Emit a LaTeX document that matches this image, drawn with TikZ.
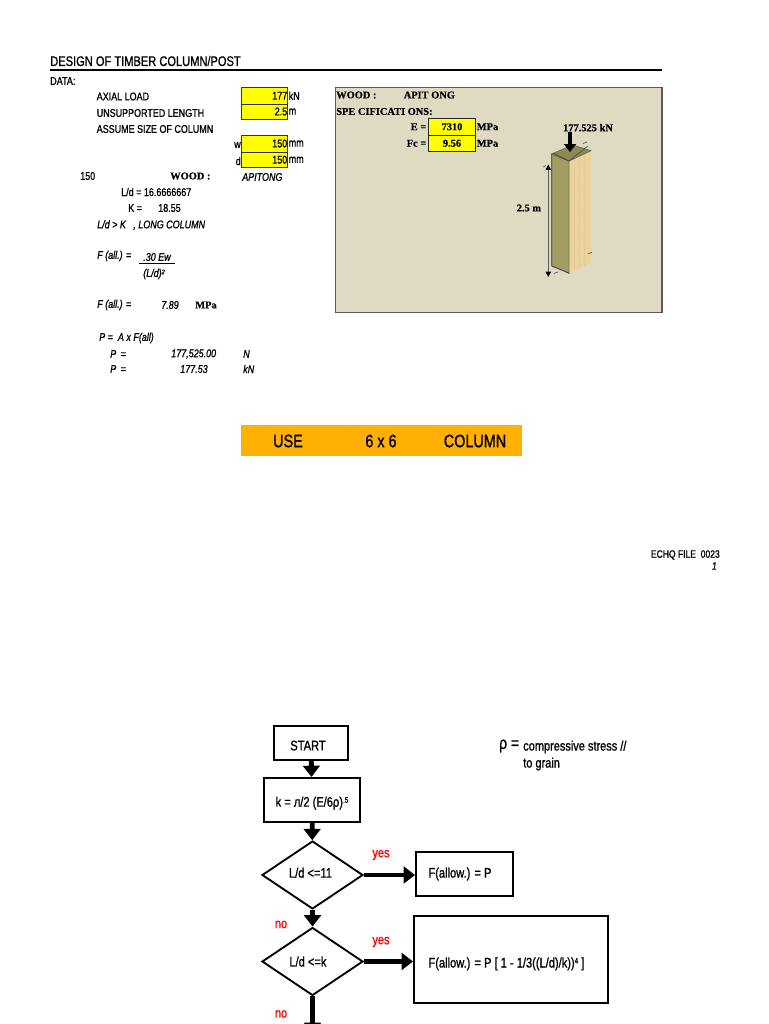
\documentclass[tikz,border=0pt]{standalone}
\usepackage{fontspec}
\usepackage{xcolor}
\usetikzlibrary{shapes.geometric,arrows.meta}
\setmainfont[FakeStretch=0.8,FakeBold=1]{Liberation Sans}
\newfontfamily\serifbold[FakeBold=0.6]{Liberation Serif}
\definecolor{panelback}{HTML}{DFDBC3}
\definecolor{cellyellow}{HTML}{FFFF00}
\definecolor{bannerorange}{HTML}{FFB000}
\definecolor{woodlight}{HTML}{EBD3A0}
\definecolor{woodside}{HTML}{A39C63}
\definecolor{woodtop}{HTML}{8E8953}
\tikzset{
  txt/.style={anchor=west,inner sep=0pt,font=\fontsize{8.4}{9}\selectfont},
  ittxt/.style={txt,font=\fontsize{8.4}{9}\selectfont\itshape},
  numright/.style={txt,anchor=east},
  serif/.style={anchor=west,inner sep=0pt,font=\fontsize{7.8}{8}\serifbold\bfseries},
  cell/.style={draw=black!80,fill=cellyellow,line width=0.7pt,inner sep=0pt},
  stepbox/.style={draw,line width=1.5pt,inner sep=0pt,font=\fontsize{10.4}{12}\selectfont},
  choice/.style={diamond,draw,line width=1.4pt,inner sep=0pt,minimum width=75.75pt,minimum height=51pt,font=\fontsize{10.4}{12}\selectfont},
  flow/.style={line width=3.6pt,-{Triangle[length=8.5pt,width=12.5pt]}},
  redtxt/.style={red,inner sep=0pt,font=\fontsize{10.3}{12}\selectfont},
  bantxt/.style={inner sep=0pt,font=\fontsize{13.5}{15}\selectfont}
}
\begin{document}
\begin{tikzpicture}[x=0.75pt,y=-0.75pt]
\clip (0,0) rectangle (768,1024);
\fill[white] (0,0) rectangle (768,1024);
% heading
\node[txt,font=\fontsize{10.4}{12}\selectfont] (title) at (50,61) {DESIGN OF TIMBER COLUMN/POST};
\draw[line width=1.5pt] (50,70.5) -- (662,70.5);
\node[txt] (data) at (50,81) {DATA:};
% input cells
\foreach \nm/\yt/\yb/\s/\u in {load/87.5/104/177/kN, len/104/119/2.5/m, wid/135/152/150/mm, dep/152/167.5/150/mm} {
  \draw[cell] (241.5,\yt) rectangle (287.5,\yb);
  \node[numright] (\nm v) at (287.5,{(\yt+\yb)/2}) {\s};
  \node[txt] (\nm u) at (288.5,{(\yt+\yb)/2}) {\u};
}
\node[numright] (wlab) at (241,145) {w};
\node[numright] (dlab) at (241,161) {d};
% left column of text
\foreach \nm/\x/\y/\s in {axial/96.5/96.5/AXIAL LOAD, unsup/96.5/113/UNSUPPORTED LENGTH, assume/96.5/129/ASSUME SIZE OF COLUMN,
    side/80/176/150, ld/121/192/{L/d = 16.6666667}, klab/128/208/K =, kval/158/208/18.55}
  \node[txt] (\nm) at (\x,\y) {\s};
\foreach \nm/\x/\y/\s in {apit/242/177/APITONG, cmp/97/225/{L/d > K \ \ , LONG COLUMN}, fa/97/256/F (all.) =, num/143/257/.30 Ew,
    den/143/274/{(L/d)\raisebox{2pt}{\fontsize{5}{5}\selectfont 2}}, fb/97/305/F (all.) =, fval/161/305/7.89, pf/99/338/P = \ A x F(all),
    pa/110/354/P \,=, pav/171/354/{177,525.00}, pau/243/354/N, pb/110/369/P \,=, pbv/180/369/177.53, pbu/243/369/kN}
  \node[ittxt] (\nm) at (\x,\y) {\s};
\draw[line width=0.5pt] (139,263) -- (175,263);
\node[serif] (woodl) at (170,176) {WOOD :};
\node[serif] (mpal) at (195,305) {MPa};
% panel
\draw[draw=black!65,fill=panelback,line width=0.9pt] (335.7,87.3) rectangle (662,312.7);
\node[serif] (woodp) at (336,95) {WOOD :};
\node[serif] (apitp) at (403.5,95) {APIT ONG};
\node[serif] (spec) at (336,111.5) {SPE CIFICATI ONS:};
\foreach \nm/\yt/\yb/\l/\s in {emod/118.5/135/E =/7310, fcom/135/151.5/Fc =/9.56} {
  \draw[cell,draw=black!85] (428.7,\yt) rectangle (475.3,\yb);
  \node[serif,anchor=east] (\nm l) at (426.5,{(\yt+\yb)/2}) {\l};
  \node[serif,anchor=center] (\nm v) at (452,{(\yt+\yb)/2}) {\s};
  \node[serif] (\nm u) at (476.5,{(\yt+\yb)/2}) {MPa};
}
% column
\filldraw[draw=black!80,fill=woodside,line width=0.6pt] (551.7,154) -- (569.3,161) -- (569.3,273.3) -- (551.7,266) -- cycle;
\fill[woodlight] (569.3,161) -- (591,150.7) -- (591,262.7) -- (569.3,273.3) -- cycle;
\foreach \y in {170,182,...,260}
  \draw[woodside!12!woodlight,line width=0.25pt] (570,\y) -- (590.5,{\y-10});
\foreach \x in {574,579,584}
  \draw[woodside!12!woodlight,line width=0.25pt] (\x,{161-(\x-569)/2}) -- (\x,{273-(\x-569)/2});
\filldraw[draw=black!60,fill=woodtop,line width=0.5pt] (551.7,154) -- (572.7,145) -- (591,150.7) -- (569.3,161) -- cycle;
\draw[black!70,line width=0.5pt] (543.3,167) -- (546,165.5) (583,143.5) -- (587,142) (588,253.5) -- (592,252.5) (554,273.5) -- (558,272);
\draw[black!75,line width=0.4pt] (553,153) -- (569,161) -- (588,146);
\coordinate (loadtop) at (570,131.5);
\coordinate (loadend) at (570,152);
\coordinate (dimtop) at (548.3,164.5);
\coordinate (dimend) at (548.3,277);
\draw[black!65,line width=0.5pt,{Triangle[length=4pt,width=4pt,black]}-{Triangle[length=4pt,width=4pt,black]}] (dimtop) -- (dimend);
\node[serif] (dimlab) at (516.5,208) {2.5 m};
\node[serif,anchor=center] (loadlab) at (588,127.7) {177.525 kN};
\draw[line width=3.6pt,-{Triangle[length=6pt,width=9pt]}] (loadtop) -- (loadend);
% banner
\fill[bannerorange] (241,425) rectangle (522,456);
\node[bantxt] (use) at (288,441) {USE};
\node[bantxt] (size) at (381,441) {6 x 6};
\node[bantxt] (colm) at (475,441) {COLUMN};
% file note
\node[numright,font=\fontsize{8}{9}\selectfont] (file) at (720,555) {ECHQ FILE \ 0023};
\node[numright,font=\fontsize{8}{9}\selectfont\itshape] (page) at (717,566) {1};
% flow chart
\node[stepbox,minimum width=55.5pt,minimum height=25.5pt,text height=11pt,text depth=0pt] (start) at (311,743) {START\kern4.5pt};
\node[stepbox,minimum width=72pt,minimum height=33pt,text height=10pt,text depth=0pt] (kbox) at (312,800) {k = л/2 (E/6ρ)\raisebox{3pt}{\fontsize{6}{6}\selectfont .5}};
\node[choice,text height=8pt,text depth=4pt] (ldone) at (312.5,875) {L/d <=11\kern3pt};
\node[choice] (ldk) at (312.5,961.5) {L/d <=k\kern6.8pt};
\node[stepbox,minimum width=72.75pt,minimum height=33pt] (fone) at (464.5,874) {F(allow.) = P\kern6.8pt};
\node[stepbox,minimum width=145.5pt,minimum height=65pt,text height=12pt,text depth=0pt] (ftwo) at (511,959.5) {F(allow.) = P [ 1 - 1/3((L/d)/k))\raisebox{3pt}{\fontsize{6}{6}\selectfont 4} ]\kern6.8pt};
\coordinate (offpage) at (312.5,1034);
\draw[flow] (start) -- (kbox);
\draw[flow] (kbox) -- (ldone);
\draw[flow] (ldone) -- (ldk);
\draw[flow] (ldone.east) -- (ldone.east -| fone.west);
\draw[flow] (ldk.east) -- (ldk.east -| ftwo.west);
\draw[flow] (ldk) -- (offpage);
\node[redtxt] (yesa) at (381,855) {yes};
\node[redtxt] (yesb) at (381,942) {yes};
\node[redtxt] (noa) at (281,924.5) {no};
\node[redtxt] (nob) at (281,1014) {no};
\node[txt,font=\fontsize{13}{14}\selectfont] (rho) at (499,746) {ρ =};
\node[txt,font=\fontsize{10.3}{12}\selectfont] (compr) at (523,747) {compressive stress //};
\node[txt,font=\fontsize{10.3}{12}\selectfont] (grain) at (523,764) {to grain};
\end{tikzpicture}
\end{document}
